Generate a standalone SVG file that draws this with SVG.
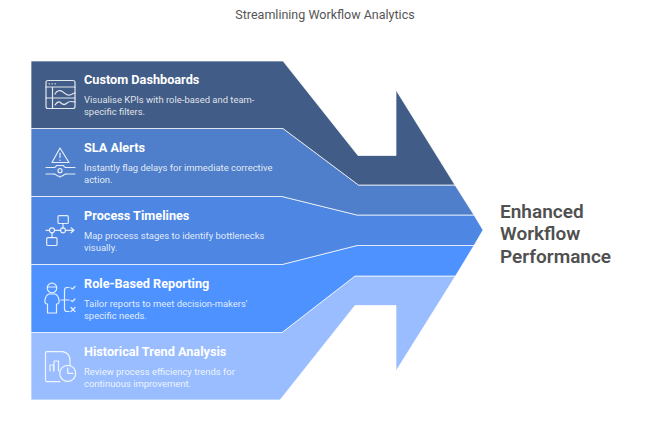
<svg xmlns="http://www.w3.org/2000/svg" width="650" height="431" viewBox="0 0 650 431">
<style>
text{font-family:Roboto,"Liberation Sans",sans-serif}
.h{font-size:12.7px;font-weight:700;fill:#fff}
.d{font-size:9.45px;fill:#fff;fill-opacity:.85}
.i{fill:none;stroke:#fff;stroke-opacity:.85;stroke-width:1.2;stroke-linecap:round;stroke-linejoin:round}
.b{stroke:#fff;stroke-opacity:.7;stroke-width:1}
.t{font-size:19px;font-weight:600;fill:#505050}
</style>
<rect width="650" height="431" fill="#fff"/>
<text x="325" y="19" text-anchor="middle" font-size="12.5" fill="#555">Streamlining Workflow Analytics</text>
<g id="connectors">
<path class="b" fill="#99bdff" d="M31 332.5H282L355 276H455.5L396 371V305.5H355L280 400H31Z"/>
<path class="b" fill="#4d92ff" d="M31 264.5H282L357 245.5H474L455.5 276H355L282 332.5H31Z"/>
<path class="b" fill="#4d86e3" d="M31 196.5H282L357 215H474L483 230L474 245.5H357L282 264.5H31Z"/>
<path class="b" fill="#4f7fca" d="M31 128.5H283L358.500 185H455L474 215H357L282 196.5H31Z"/>
<path class="b" fill="#415c87" d="M31 61H283L358 155.500H396V90L455 185H358.500L283 128.500H31Z"/>
</g>
<g id="node-custom-dashboards">
<g class="i"><rect x="46" y="80.500" width="29" height="28" rx="2"/><path d="M46 87H75M52.500 87V108.500M46 98H75"/><path d="M55 94c2-4 5-4 8-2s4 4 7 3 3-2 5-2M55 105c2-3 4-4 6-2s4 2 6 0 4-2 8-1"/><path d="M49 83.800h.4M52 83.800h.4M55 83.800h.4"/></g>
<text class="h" x="84" y="83.500">Custom Dashboards</text>
<text class="d" x="84" y="103">Visualise KPIs with role-based and team-</text>
<text class="d" x="84" y="114.500">specific filters.</text>
</g>
<g id="node-sla-alerts">
<g class="i"><path d="M60 148L69 162.500H52Z"/><path d="M60 153v4.500M60 160v.4"/><path d="M46 167.500H54M46 174H54M66 167.500H75M66 174H75"/><path d="M54 167.500c1 0 2-.5 2.500-2h7c.5 1.500 1.500 2 2.500 2M54 174c2 0 2.500 2 4 2s2 1 2 1 1-1 2-1 2-2 4-2"/><circle cx="60" cy="170.700" r="2"/></g>
<text class="h" x="84" y="151.500">SLA Alerts</text>
<text class="d" x="84" y="171">Instantly flag delays for immediate corrective</text>
<text class="d" x="84" y="182.500">action.</text>
</g>
<g id="node-process-timelines">
<g class="i"><rect x="58" y="215.700" width="10.300" height="7.800" rx="1"/><rect x="46.700" y="237.700" width="10.300" height="7.800" rx="1"/><path d="M63 223.500V228M52 233V237.700"/><circle cx="52" cy="230.300" r="2.500"/><circle cx="63" cy="230.300" r="2.500"/><path d="M46 230.300H49.500M54.500 230.300H60.500M65.500 230.300H74M71 227.800L74 230.300L71 232.800"/></g>
<text class="h" x="84" y="219.500">Process Timelines</text>
<text class="d" x="84" y="239">Map process stages to identify bottlenecks</text>
<text class="d" x="84" y="250.500">visually.</text>
</g>
<g id="node-role-based-reporting">
<g class="i"><circle cx="52" cy="288" r="4.800"/><path d="M47.500 287H56.500"/><path d="M49 294c-3 1-3.500 3-4 6-.5 2 0 4 2.500 4V313H56.500V304c2.500 0 3-2 2.500-4-.5-3-1-5-4-6Z"/><path d="M69 287.500H67Q64.500 287.500 64.500 290V309Q64.500 311.500 67 311.500H69M61 300H69"/><path d="M71 288l1.500 1 2.500-2.500M71 300.500l1.500 1 2.500-2.500M71 307.500l4 4M75 307.500l-4 4"/></g>
<text class="h" x="84" y="287.500">Role-Based Reporting</text>
<text class="d" x="84" y="307">Tailor reports to meet decision-makers'</text>
<text class="d" x="84" y="318.500">specific needs.</text>
</g>
<g id="node-historical-trend-analysis">
<g class="i"><path d="M60 381.700H47a1.500 1.500 0 0 1-1.500-1.500V353.200A1.500 1.500 0 0 1 47 351.700H62.700Q70 353 70 360.500V365.500"/><path d="M50 371V365H53.500V371M54 371V361H58.500V371"/><circle cx="67.700" cy="373.300" r="8"/><path d="M67.700 368V373.300H73"/></g>
<text class="h" x="84" y="355.500">Historical Trend Analysis</text>
<text class="d" x="84" y="375">Review process efficiency trends for</text>
<text class="d" x="84" y="386.500">continuous improvement.</text>
</g>
<g id="node-outcome">
<text class="t" x="500" y="217.500">Enhanced</text>
<text class="t" x="500" y="240">Workflow</text>
<text class="t" x="500" y="263">Performance</text>
</g>
</svg>
